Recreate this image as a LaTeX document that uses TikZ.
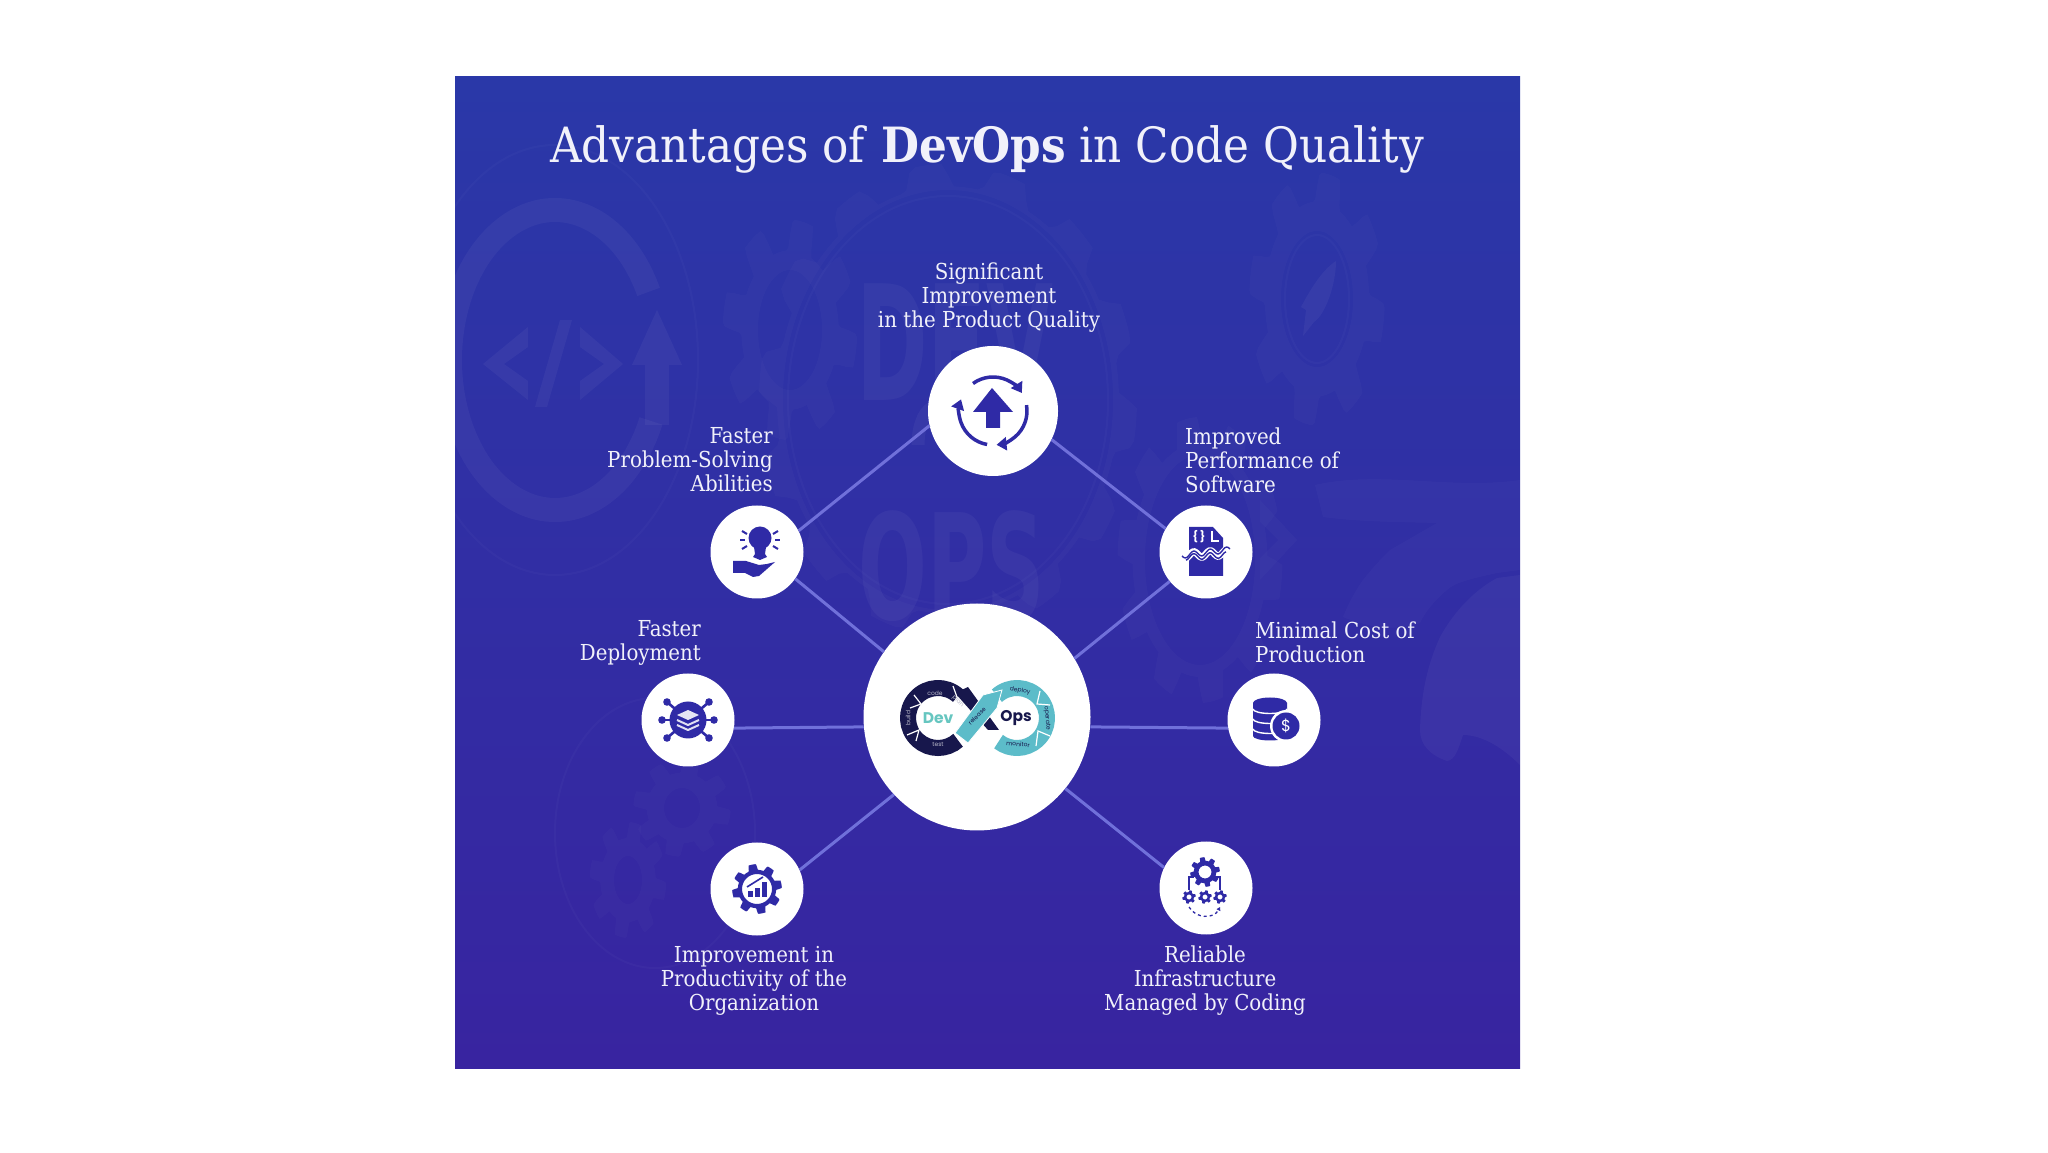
\documentclass[tikz,border=0pt]{standalone}
\usepackage{fontspec}
\usetikzlibrary{arrows.meta}
\setmainfont{DejaVu Serif Condensed}
\newfontfamily\logofont{Poppins}
\newfontfamily\ghostfont{DejaVu Sans}
\definecolor{iconblue}{HTML}{2F2AA6}
\definecolor{linec}{HTML}{7070DA}
\definecolor{txt}{HTML}{F1F1FA}
\definecolor{logodark}{HTML}{17174C}
\definecolor{logoteal}{HTML}{5CBCC9}
\definecolor{devteal}{HTML}{66C6C0}
\definecolor{bgtop}{HTML}{2A38A8}
\definecolor{bgmid}{HTML}{2E2EAC}
\definecolor{bgbot}{HTML}{3824A0}
\newcommand{\gearpath}[6]{plot[samples=181,domain=0:360,variable=\t] ({#1+#3*(1+#6*max(-1,min(1,3*sin(#5*\t))))*cos(\t)},{#2+#4*(1+#6*max(-1,min(1,3*sin(#5*\t))))*sin(\t)}) -- cycle}
\tikzset{
  disc/.style={circle,fill=white,inner sep=0pt,minimum size=#1},
  link/.style={draw=linec,line width=3pt},
  lab/.style={text=txt,font=\fontsize{22}{24}\selectfont,inner sep=0pt},
  ghostfill/.style={fill=white,fill opacity=.045},
  ghostfaint/.style={fill=white,fill opacity=.02},
  ghostline/.style={draw=white,draw opacity=.045},
  ghostthin/.style={draw=white,draw opacity=.025,line width=2pt},
  ghosttext/.style={text=white,text opacity=.04,inner sep=0pt},
  iconfill/.style={fill=iconblue},
  iconline/.style={draw=iconblue,line width=3.5pt},
  tiny/.style={font=\logofont\fontsize{6}{6}\selectfont,inner sep=0pt},
  ringdark/.style={draw=logodark,line width=16pt},
  ringteal/.style={draw=logoteal,line width=16pt},
  cut/.style={draw=white,line width=1.2pt,line join=miter}
}
\begin{document}
\begin{tikzpicture}[x=1pt,y=1pt]
\useasboundingbox (0,0) rectangle (2048,1152);
\fill[white] (0,0) rectangle (2048,1152);
\shade[top color=bgtop,middle color=bgmid,bottom color=bgbot] (455,84) rectangle (1520,1075.5);
% faint artwork, in picture pixel coordinates
\begin{scope}
\clip (455,84) rectangle (1520,1075.5);
\begin{scope}[shift={(0,1152)},yscale=-1]
  % big code ring
  \draw[ghostline,line width=24pt] (555+105*0.891,360-150*0.454) arc[start angle=-27,end angle=-336,x radius=105,y radius=150];
  \fill[ghostfill] (657,310) -- (682,365) -- (669,365) -- (669,425) -- (645,425) -- (645,365) -- (632,365) -- cycle;
  \fill[ghostfill] (528,327) -- (528,347) -- (504,364) -- (528,381) -- (528,400) -- (483,364) -- cycle;
  \fill[ghostfill] (560,320) -- (572,320) -- (547,407) -- (535,407) -- cycle;
  \fill[ghostfill] (580,327) -- (580,347) -- (604,364) -- (580,381) -- (580,400) -- (623,364) -- cycle;
  \draw[ghostthin] (555,360) ellipse (143 and 215);
  % central gears and ellipses
  \fill[ghostfaint,even odd rule] \gearpath{790}{330}{58}{95}{8}{0.16} (790,330) ellipse (32 and 60);
  \fill[ghostfaint,even odd rule] \gearpath{948}{400}{180}{225}{14}{0.05} (948,400) ellipse (165 and 210);
  \draw[ghostthin] (948,400) ellipse (160 and 204);
  \node[ghosttext,font=\ghostfont\bfseries\fontsize{90}{90}\selectfont] (gd) at (955,342) {\scalebox{0.96}[1.78]{DEV}};
  \node[ghosttext,font=\ghostfont\bfseries\fontsize{90}{90}\selectfont] (go) at (952,566) {\scalebox{0.9}[1.63]{OPS}};
  \draw[ghostline,line width=13pt] (918,445) arc[start angle=180,end angle=0,x radius=18,y radius=-38];
  \draw[ghostline,line width=13pt] (964,445) arc[start angle=180,end angle=0,x radius=18,y radius=-38];
  % rocket gear
  \fill[ghostfaint,even odd rule] \gearpath{1317}{299}{60}{112}{8}{0.13} (1317,299) ellipse (36 and 68);
  \draw[ghostthin] (1317,299) ellipse (32 and 64);
  \fill[ghostfill] (1336,261) .. controls (1336,285) and (1325,315) .. (1314,322) -- (1303,336) -- (1306,310) -- (1301,307) .. controls (1310,290) and (1322,270) .. (1336,261) -- cycle;
  % chevron by the performance icon
  \fill[ghostfaint] (1260,500) -- (1297,540) -- (1260,580) -- (1260,558) -- (1278,540) -- (1260,522) -- cycle;
  % hand
  \fill[white,fill opacity=.022] (1315,485) .. controls (1380,470) and (1450,490) .. (1520,480) -- (1520,570) -- (1497,573) .. controls (1475,578) and (1455,582) .. (1447,590) .. controls (1435,600) and (1425,612) .. (1420,623) .. controls (1400,630) and (1375,630) .. (1343,617) .. controls (1350,600) and (1356,590) .. (1363,580) .. controls (1375,565) and (1380,560) .. (1390,550) -- (1437,523) .. controls (1400,522) and (1360,522) .. (1323,517) -- cycle;
  \fill[white,fill opacity=.04] (1497,578) -- (1520,575) -- (1520,765) .. controls (1500,745) and (1480,735) .. (1463,735) .. controls (1458,750) and (1455,760) .. (1447,761) .. controls (1430,755) and (1420,745) .. (1420,730) .. controls (1421,700) and (1425,670) .. (1440,637) .. controls (1455,610) and (1475,590) .. (1497,578) -- cycle;
  % lower left gears
  \fill[ghostfaint,even odd rule] \gearpath{682}{808}{42}{42}{8}{0.16} (682,808) ellipse (18 and 20);
  \fill[ghostfaint,even odd rule] \gearpath{628}{880}{33}{50}{8}{0.16} (628,880) ellipse (14 and 24);
  \draw[ghostthin] (655,833) ellipse (100 and 135);
  % right-side gear behind the performance icon
  \fill[ghostfaint,even odd rule] \gearpath{1200}{560}{75}{130}{10}{0.1} (1200,560) ellipse (55 and 105);
\end{scope}
\end{scope}
% title
\node[text=txt,inner sep=0pt,font=\fontsize{48.6}{54}\selectfont] (title) at (987,1003) {Advantages of \textbf{DevOps} in Code Quality};
% nodes
\node[disc=227pt] (hub) at (977,435) {};
\node[disc=130pt] (q) at (993,741) {};
\node[disc=93pt] (perf) at (1206,600) {};
\node[disc=93pt] (solve) at (757,600) {};
\node[disc=93pt] (deploy) at (688,432) {};
\node[disc=93pt] (cost) at (1274,432) {};
\node[disc=93pt] (prod) at (757,263) {};
\node[disc=93pt] (infra) at (1206,264) {};
% connectors
\draw[link] (solve.27) -- (q.193);
\draw[link] (q.-26) -- (perf.150);
\draw[link] (solve.-35) -- (hub.145);
\draw[link] (perf.219) -- (hub.31);
\draw[link] (deploy.-10) -- (hub.185.6);
\draw[link] (cost.190) -- (hub.-5.6);
\draw[link] (prod.24) -- (hub.223);
\draw[link] (infra.154) -- (hub.-39);
% labels
\node[lab,align=center] (lq) at (989,854) {Significant\\Improvement\\in the Product Quality};
\node[lab,align=right,anchor=east] (lsolve) at (773,692) {Faster\\Problem-Solving\\Abilities};
\node[lab,align=left,anchor=west] (lperf) at (1185,692) {Improved\\Performance of\\Software};
\node[lab,align=right,anchor=east] (ldeploy) at (701,509) {Faster\\Deployment};
\node[lab,align=left,anchor=west] (lcost) at (1255,510) {Minimal Cost of\\Production};
\node[lab,align=center] (lprod) at (754,171) {Improvement in\\Productivity of the\\Organization};
\node[lab,align=center] (linfra) at (1205,171) {Reliable\\Infrastructure\\Managed by Coding};
% icon: quality
\begin{scope}[shift={(q.center)}]
  \fill[iconfill] (-1,23) -- (20,-1) -- (7,-1) -- (7,-17) -- (-7,-17) -- (-7,-1) -- (-20,-1) -- cycle;
  \draw[iconline,-{Triangle[length=10pt,width=13pt]}] (126:34) arc[start angle=126,end angle=32,radius=34];
  \draw[iconline,-{Triangle[length=10pt,width=13pt]}] (10:34) arc[start angle=10,end angle=-84,radius=34];
  \draw[iconline,-{Triangle[length=10pt,width=13pt]}] (-100:34) arc[start angle=-100,end angle=-200,radius=34];
\end{scope}
% icon: bulb in hand
\begin{scope}[shift={(solve.center)}]
  \fill[iconfill] (3,14) circle (11.5);
  \fill[iconfill] (-3,5) -- (9,5) -- (8,-2) -- (10,-5) -- (3,-8) -- (-4,-5) -- (-2,-2) -- cycle;
  \fill[iconfill] (-24,-9) -- (-11,-9) -- (2,-13) -- (10,-12) -- (18,-10) -- (2,-24) -- (-4,-25) -- (-12,-21) -- (-24,-21) -- cycle;
  \foreach \a/\b/\c/\d in {-17/12/-12/12,18/12/23/12,-15/21/-10/18,21/21/16/18,-15/3/-10/6,21/3/16/6}
    \draw[iconblue,line width=2pt] (\a,\b) -- (\c,\d);
\end{scope}
% icon: document
\begin{scope}[shift={(perf.center)}]
  \fill[iconfill] (-17,25) -- (7,25) -- (17,14) -- (17,-24) -- (-17,-24) -- cycle;
  \node[text=white,inner sep=0pt,font=\logofont\bfseries\fontsize{11}{11}\selectfont] (doccode) at (-7,15) {\{\,\}};
  \draw[white,line width=1.6pt] (6,21) -- (6,11) -- (13,11);
  \draw[white,line width=7pt] plot[smooth,samples=30,domain=-20:20,variable=\x] (\x,{-2+0.06*\x+3*sin(22*\x)});
  \draw[iconblue,line width=1.4pt] plot[smooth,samples=30,domain=-24:24,variable=\x] (\x,{-0.5+0.12*\x+3*sin(22*\x)});
  \draw[iconblue,line width=1.4pt] plot[smooth,samples=30,domain=-20:20,variable=\x] (\x,{-4+0.06*\x+3*sin(22*\x)});
\end{scope}
% icon: deployment hub
\begin{scope}[shift={(deploy.center)}]
  \foreach \xa/\ya in {26/0,-26/0,21/18,-21/18,21/-18,-21/-18}{
    \draw[iconblue,line width=2.6pt] (0,0) -- (\xa,\ya);
    \fill[iconfill] (\xa,\ya) circle (3.8);
  }
  \fill[iconfill] (0,0) circle (18.5);
  \foreach \yy in {-5,0}
    \draw[white!85!iconblue,line width=2pt,line join=round] (-11,\yy) -- (0,\yy-5) -- (11,\yy);
  \fill[white!88!iconblue] (-11,5) -- (0,10) -- (11,5) -- (0,0) -- cycle;
\end{scope}
% icon: coins
\begin{scope}[shift={(cost.center)}]
  \fill[iconfill] (-21,17) -- (-21,-16) arc[start angle=180,end angle=360,x radius=17,y radius=4.5] -- (13,17) -- cycle;
  \fill[iconfill] (-4,17) ellipse (17 and 5.5);
  \foreach \yy in {11,1,-9}
    \draw[white,line width=1.4pt] (-21,\yy) arc[start angle=180,end angle=360,x radius=17,y radius=4.5];
  \fill[white] (12,-6) circle (16);
  \fill[iconfill] (12,-6) circle (13.5);
  \node[text=white,inner sep=0pt,font=\logofont\fontsize{16}{16}\selectfont] (coin) at (12,-6) {\$};
\end{scope}
% icon: infrastructure
\begin{scope}[shift={(infra.center)}]
  \fill[iconfill,even odd rule] \gearpath{-1}{16}{13}{13}{8}{0.14} (-1,16) circle (6.5);
  \foreach \gx in {-17,-1,14}
    \fill[iconfill,even odd rule] \gearpath{\gx}{-9}{5.8}{5.8}{6}{0.16} (\gx,-9) circle (2.6);
  \draw[iconblue,line width=1.2pt] (-17,-2) -- (-17,11) -- (-12,11);
  \draw[iconblue,line width=1.2pt] (14,-2) -- (14,11) -- (10,11);
  \draw[iconblue,line width=1.3pt,dashed,-{Triangle[length=3.5pt,width=4pt]}] (-17,-19) .. controls (-10,-31) and (8,-31) .. (14,-19);
\end{scope}
% icon: productivity gear
\begin{scope}[shift={(prod.center)}]
  \fill[iconfill,even odd rule] \gearpath{0}{0}{22}{22}{8}{0.13} (0,0) circle (15);
  \fill[iconfill] (-9,-8) rectangle (-4,-2);
  \fill[iconfill] (-2,-8) rectangle (3,1);
  \fill[iconfill] (4.5,-8) rectangle (9.5,7);
  \draw[iconblue,line width=1.6pt] (-10,2) -- (6,12);
\end{scope}
% logo
\begin{scope}
  \fill[logodark] (955,459) -- (968,465) -- (999,422) -- (988,422) -- cycle;
  \draw[ringdark] (938,434) ++(48:30) arc[start angle=48,end angle=312,radius=30];
  \draw[ringteal] (1017,434) ++(132:30) arc[start angle=132,end angle=-128,radius=30];
  \fill[logoteal,draw=white,line width=.8pt] (955,419) -- (968,409) -- (997,444) -- (1002,462) -- (983,457) -- cycle;
  \draw[cut] (953,466) -- (958,452) -- (947,446);
  \draw[cut] (914,457) -- (921,448) -- (910,444);
  \draw[cut] (907,417) -- (919,422) -- (916,411);
  \draw[cut] (1040,461) -- (1037,448) -- (1050,447);
  \draw[cut] (1050,416) -- (1038,421) -- (1036,406);
  \node[tiny,text=white!70!logodark] (tcode) at (935,459) {code};
  \node[tiny,text=white!70!logodark,rotate=-45] (tplan) at (958,451) {plan};
  \node[tiny,text=white!70!logodark,rotate=90] (tbuild) at (908,434) {build};
  \node[tiny,text=white!70!logodark] (ttest) at (938,408) {test};
  \node[tiny,text=logodark,rotate=45] (trel) at (977,436) {release};
  \node[tiny,text=logodark,rotate=-10] (tdep) at (1020,461) {deploy};
  \node[tiny,text=logodark,rotate=-85] (toper) at (1047,434) {operate};
  \node[tiny,text=logodark,rotate=-5] (tmon) at (1018,408) {monitor};
  \node[inner sep=0pt,text=devteal,font=\logofont\bfseries\fontsize{15.5}{15.5}\selectfont] (dev) at (938,434) {Dev};
  \node[inner sep=0pt,text=logodark,font=\logofont\bfseries\fontsize{15.5}{15.5}\selectfont] (ops) at (1016,434) {Ops};
\end{scope}
\end{tikzpicture}
\end{document}
